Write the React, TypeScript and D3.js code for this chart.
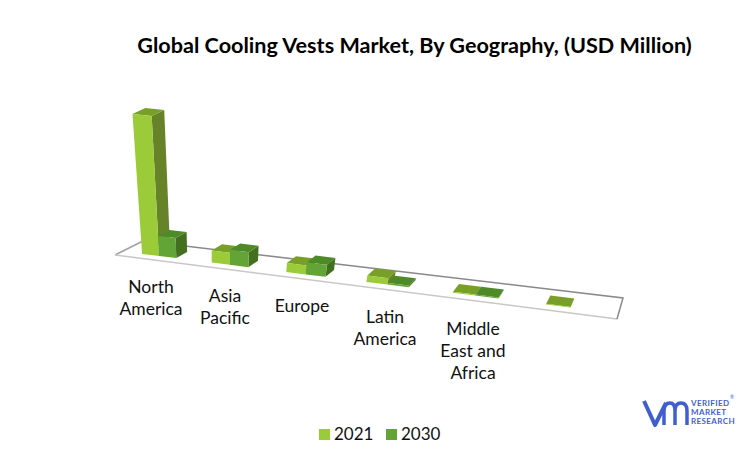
import React from "react";
import * as d3 from "d3";

const categories = ["North America", "Asia Pacific", "Europe", "Latin America", "Middle East and Africa", ""];
const categoryLines = [["North", "America"], ["Asia", "Pacific"], ["Europe"], ["Latin", "America"], ["Middle", "East and", "Africa"], []];
const series2021 = [700, 60, 45, 32, 5, 3];
const series2030 = [100, 75, 60, 8, 5, 0];
const seriesNames = ["2021", "2030"];
const title = "Global Cooling Vests Market, By Geography, (USD Million)";

const labelX = [151, 225, 302, 385, 473];
const labelY = [293, 302, 312, 323, 335];

const W = 750, H = 464;
const FONT = "Lato, 'Open Sans', sans-serif";
type P = [number, number];
const Q: P[] = [[115, 255], [617, 319], [623, 298], [143, 241]];

function ground(u: number, v: number): P {
  const [p0, p1, p2, p3] = Q;
  const sx = p0[0] - p1[0] + p2[0] - p3[0], sy = p0[1] - p1[1] + p2[1] - p3[1];
  const d1x = p1[0] - p2[0], d1y = p1[1] - p2[1], d2x = p3[0] - p2[0], d2y = p3[1] - p2[1];
  const den = d1x * d2y - d2x * d1y;
  const g = (sx * d2y - sy * d2x) / den, h = (d1x * sy - d1y * sx) / den;
  const a = p1[0] - p0[0] + g * p1[0], b = p3[0] - p0[0] + h * p3[0];
  const d = p1[1] - p0[1] + g * p1[1], e = p3[1] - p0[1] + h * p3[1];
  const w = g * u + h * v + 1;
  return [(a * u + b * v + p0[0]) / w, (d * u + e * v + p0[1]) / w];
}

const VP: P = [215, 1320];
const hScale = d3.scaleLinear().domain([0, 700]).range([0, 140]);
const uBand = d3.scaleBand<string>().domain(categories.map((c, i) => i + c)).range([0.008, 1.004]).paddingInner(0.5).paddingOuter(0.25);
const V0 = 0.25, V1 = 0.66;

function pt(u: number, v: number, value: number): P {
  const g = ground(u, v);
  const dx = VP[0] - g[0], dy = VP[1] - g[1];
  const k = hScale(value) / dy;
  return [g[0] - dx * k, g[1] - dy * k];
}
const poly = (ps: P[]) => ps.map(p => p[0].toFixed(1) + "," + p[1].toFixed(1)).join(" ");

const palette = [
  { front: "#9bcb38", side: "#67832a", top: "#78a029" },
  { front: "#62a436", side: "#42701f", top: "#4e8a28" },
];

function Bar({ u0, u1, value, c }: { u0: number; u1: number; value: number; c: typeof palette[0] }) {
  const a = (u: number, v: number, h: number) => pt(u, v, h);
  return (
    <g>
      <polygon points={poly([a(u1, V0, 0), a(u1, V1, 0), a(u1, V1, value), a(u1, V0, value)])} fill={c.side} />
      <polygon points={poly([a(u0, V0, value), a(u1, V0, value), a(u1, V1, value), a(u0, V1, value)])} fill={c.top} />
      <polygon points={poly([a(u0, V0, 0), a(u1, V0, 0), a(u1, V0, value), a(u0, V0, value)])} fill={c.front} />
    </g>
  );
}

export default function App() {
  const bw = uBand.bandwidth();
  return (
    <svg width={W} height={H} viewBox={`0 0 ${W} ${H}`} style={{ position: "absolute", left: 0, top: 0, background: "#fff" }}>
      <text x={414.5} y={53} textAnchor="middle" fontFamily={FONT} fontWeight={700} fontSize={21.6} fill="#000">{title}</text>

      <polyline points={poly([Q[3], Q[0]])} fill="none" stroke="#a0a0a0" strokeWidth={1.5} />
      <polyline points={poly([Q[0], Q[1]])} fill="none" stroke="#c8c8c8" strokeWidth={1.5} />
      <polyline points={poly([Q[1], Q[2], Q[3]])} fill="none" stroke="#8a8a8a" strokeWidth={1.5} />

      {categories.map((c, i) => {
        const u0 = uBand(i + c)!;
        const um = u0 + bw / 2, u1 = u0 + bw;
        return (
          <g key={i}>
            <Bar u0={u0} u1={um} value={series2021[i]} c={palette[0]} />
            {series2030[i] > 0 && <Bar u0={um} u1={u1} value={series2030[i]} c={palette[1]} />}
          </g>
        );
      })}

      {categoryLines.map((lines, i) => lines.map((l, j) => (
        <text key={i + "-" + j} x={labelX[i]} y={labelY[i] + j * 22} textAnchor="middle" fontFamily={FONT} fontSize={17.5} fill="#111">{l}</text>
      )))}

      {seriesNames.map((s, i) => (
        <g key={s} transform={`translate(${319 + i * 67},429)`}>
          <rect width={11} height={11} fill={palette[i].front} />
          <text x={15} y={11} fontFamily={FONT} fontSize={17} fill="#111">{s}</text>
        </g>
      ))}

      <g fill="none" stroke="#3f5fd0" strokeWidth={4} strokeLinejoin="round">
        <path d="M644,401 L655,425 L666,403" />
        <path d="M664,425 V411 Q664,403 670,403 Q675,403 675,411 V425 M675,411 Q675,403 681,403 Q687,403 687,411 V425" strokeWidth={3.5} />
      </g>
      <g fontFamily={FONT} fontWeight={700} fontSize={8} fill="#3f5fd0" letterSpacing={0.4}>
        <text x={691} y={406}>VERIFIED</text>
        <text x={691} y={415}>MARKET</text>
        <text x={691} y={424}>RESEARCH</text>
      </g>
      <text x={730} y={399} fontFamily={FONT} fontSize={5} fill="#3f5fd0">®</text>
    </svg>
  );
}
